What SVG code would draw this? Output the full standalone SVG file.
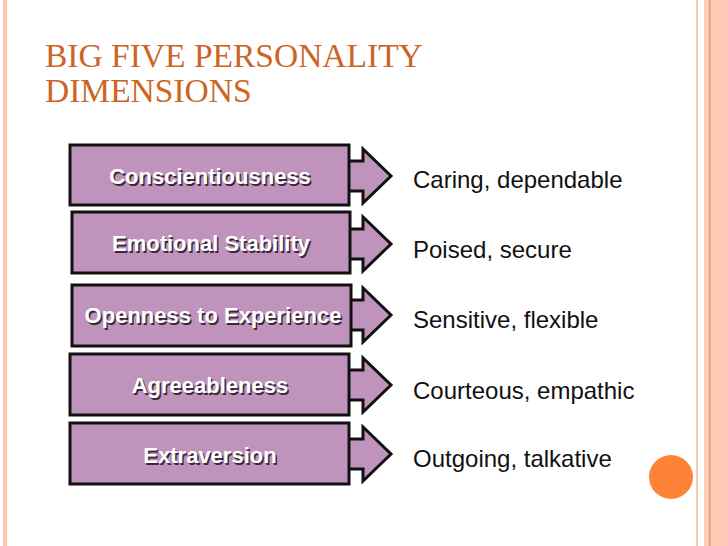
<svg xmlns="http://www.w3.org/2000/svg" width="728" height="546" viewBox="0 0 728 546">
<style>
.box{fill:#BF93BC;stroke:#111;stroke-width:3}
.arr{fill:#BF93BC;stroke:#111;stroke-width:3;stroke-linejoin:miter}
.lbl{font-family:"Liberation Sans",Arial,sans-serif;font-weight:bold;font-size:22px;fill:#fff;text-anchor:middle}
.sh{font-family:"Liberation Sans",Arial,sans-serif;font-weight:bold;font-size:22px;fill:#3a2a38;text-anchor:middle}
.desc{font-family:"Liberation Sans",Arial,sans-serif;font-size:24px;fill:#111}
.title{font-family:"Liberation Serif","Times New Roman",serif;font-size:33.5px;fill:#CC6424}
</style>
<rect x="0" y="0" width="728" height="546" fill="#fff"/>
<rect x="3" y="0" width="4" height="546" fill="#FFC6B6"/>
<rect x="696" y="0" width="2" height="546" fill="#F6C9B9"/>
<rect x="704" y="0" width="24" height="546" fill="#FFCBB6"/>
<rect x="709" y="0" width="1.5" height="546" fill="#E8936C"/>
<circle cx="671" cy="477" r="22" fill="#FF8336"/>
<g id="title">
<text class="title" x="45" y="67">BIG FIVE PERSONALITY</text>
<text class="title" x="45" y="102">DIMENSIONS</text>
</g>
<g id="connectors">
<path class="arr" d="M349,161 H363 V149 L391,176 L363,203 V191 H349"/>
<path class="arr" d="M350,229 H363 V217 L391,244 L363,271 V259 H350"/>
<path class="arr" d="M351,300 H363 V288 L391,315 L363,342 V330 H351"/>
<path class="arr" d="M349,370 H363 V358 L391,385 L363,412 V400 H349"/>
<path class="arr" d="M349,439 H363 V427 L391,454 L363,481 V469 H349"/>
</g>
<g id="n1">
<rect class="box" x="70" y="145" width="279" height="60"/>
<text class="sh" x="211.5" y="185.5">Conscientiousness</text>
<text class="lbl" x="210" y="184">Conscientiousness</text>
</g>
<g id="n2">
<rect class="box" x="72" y="212" width="278" height="61"/>
<text class="sh" x="212.5" y="252.5">Emotional Stability</text>
<text class="lbl" x="211" y="251">Emotional Stability</text>
</g>
<g id="n3">
<rect class="box" x="72" y="285" width="279" height="61"/>
<text class="sh" x="214.5" y="324.5">Openness to Experience</text>
<text class="lbl" x="213" y="323">Openness to Experience</text>
</g>
<g id="n4">
<rect class="box" x="70" y="354" width="279" height="61"/>
<text class="sh" x="211.5" y="394.5">Agreeableness</text>
<text class="lbl" x="210" y="393">Agreeableness</text>
</g>
<g id="n5">
<rect class="box" x="70" y="423" width="279" height="61"/>
<text class="sh" x="211.5" y="464.5">Extraversion</text>
<text class="lbl" x="210" y="463">Extraversion</text>
</g>
<g id="d1"><text class="desc" x="413" y="188">Caring, dependable</text></g>
<g id="d2"><text class="desc" x="413" y="258">Poised, secure</text></g>
<g id="d3"><text class="desc" x="413" y="328">Sensitive, flexible</text></g>
<g id="d4"><text class="desc" x="413" y="399">Courteous, empathic</text></g>
<g id="d5"><text class="desc" x="413" y="467">Outgoing, talkative</text></g>
</svg>
